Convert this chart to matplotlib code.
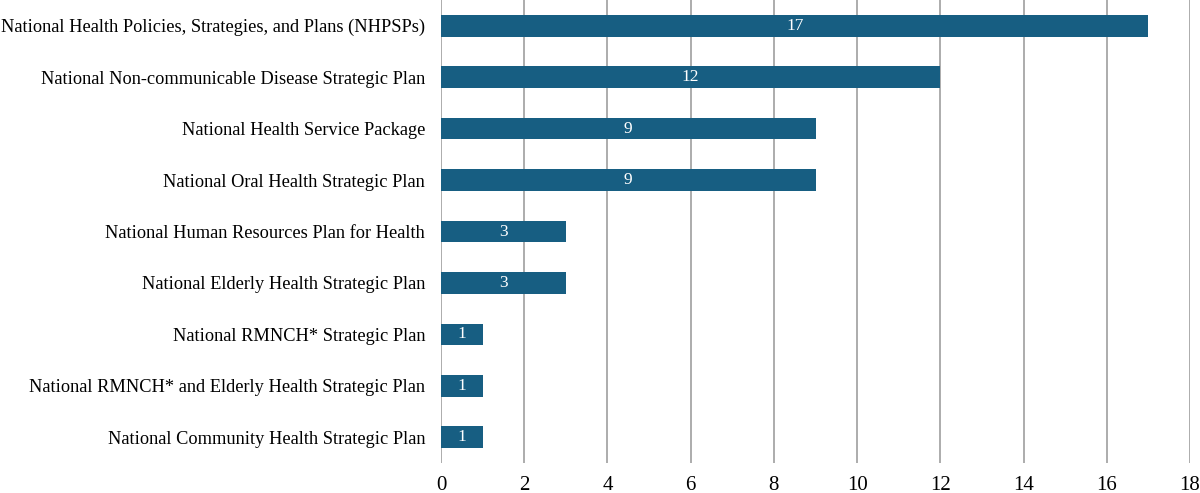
import matplotlib
matplotlib.use("Agg")
import matplotlib.pyplot as plt

categories = [
    "National Health Policies, Strategies, and Plans (NHPSPs)",
    "National Non-communicable Disease Strategic Plan",
    "National Health Service Package",
    "National Oral Health Strategic Plan",
    "National Human Resources Plan for Health",
    "National Elderly Health Strategic Plan",
    "National RMNCH* Strategic Plan",
    "National RMNCH* and Elderly Health Strategic Plan",
    "National Community Health Strategic Plan",
]
values = [17, 12, 9, 9, 3, 3, 1, 1, 1]
xticks = [0, 2, 4, 6, 8, 10, 12, 14, 16, 18]

plt.rcParams['font.family'] = ['Liberation Serif', 'DejaVu Serif']

fig = plt.figure(figsize=(12, 4.93), dpi=100)
ax = fig.add_axes([441/1200, 1-463/493, (1190-441)/1200, 463/493])

ypos = list(range(len(categories)))
bars = ax.barh(ypos, values, height=0.42, color='#175E82', zorder=3)
for b, v in zip(bars, values):
    ax.text(v/2, b.get_y()+b.get_height()/2, str(v), ha='center', va='center',
            color='white', fontsize=12.5, zorder=4)

ax.set_yticks(ypos)
ax.set_yticklabels(categories, fontsize=13.2)
ax.set_ylim(len(categories)-0.5, -0.5)
ax.set_xlim(0, 18)
ax.set_xticks(xticks)
ax.set_xticklabels([str(t) for t in xticks], fontsize=15)
ax.tick_params(axis='both', length=0)
ax.tick_params(axis='y', pad=11.5)
ax.tick_params(axis='x', pad=9)
for s in ax.spines.values():
    s.set_visible(False)
ax.grid(axis='x', color='#a6a6a6', linewidth=1.3, zorder=0)
ax.set_axisbelow(True)

fig.savefig("out.png", dpi=100)
